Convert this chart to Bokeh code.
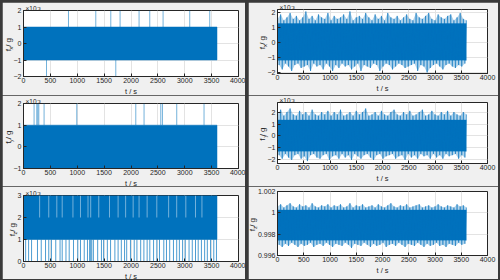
import numpy as np
from bokeh.plotting import figure
from bokeh.layouts import row, column
from bokeh.models import Range1d, FixedTicker, Title
from bokeh.embed import file_html
from bokeh.resources import INLINE

BLUE = "#0072BD"
AX = "#262626"
FONT = "Liberation Sans"

# ---------------- data (values in axis units; fx, fy in 1e-3 g) ----------------
x_ticks = [0, 500, 1000, 1500, 2000, 2500, 3000, 3500, 4000]
t_end = 3600

# left column: quantised signals
lx_body = [-1, 1]
lx_up_t = [837, 1345, 1624, 1797, 2150, 2349, 2597, 3093, 3465]
lx_up_v = [2, 2, 2, 2, 2, 2, 2, 2, 2]
lx_dn_t = [428, 1717]
lx_dn_v = [-2, -2]

ly_body = [-1, 1]
ly_up_t = [197, 247, 266, 285, 383, 991, 2089, 2243, 2554, 2585, 2851, 3359]
ly_up_v = [2, 2, 2, 2, 2, 2, 2, 2, 2, 2, 2, 2]

lz_body = [1, 3]
lz_dn_t = [40, 95, 150, 260, 330, 410, 470, 520, 600, 680, 720, 790, 850, 930,
           1010, 1060, 1130, 1190, 1230, 1250, 1270, 1300, 1380, 1450, 1490, 1560,
           1620, 1700, 1760, 1820, 1880, 1920, 1990, 2060, 2110, 2180, 2240, 2300,
           2350, 2420, 2480, 2530, 2610, 2660, 2720, 2790, 2850, 2900, 2960, 3010,
           3080, 3140, 3200, 3250, 3310, 3370, 3420, 3480, 3540, 3590]
lz_dn_v = [0] * len(lz_dn_t)
lz_gap_t = [300, 470, 620, 720, 920, 1060, 1200, 1250, 1400, 1600, 1760, 1900,
            2040, 2150, 2300, 2480, 2700, 2850, 3020, 3200, 3320]
lz_gap_v = [2, 3]

# right column: noisy signals (core band + upper / lower peak values every 60 s)
rx_core = [-1.2, 1.3]
rx_hi = [1.6, 1.9, 1.5, 1.7, 2.0, 1.6, 1.8, 1.5, 1.7, 2.1, 1.6, 1.8, 1.5, 1.9, 1.7,
         1.6, 2.0, 1.5, 1.8, 1.6, 1.7, 1.9, 1.6, 2.1, 1.5, 1.7, 1.8, 1.6, 2.0, 1.7,
         1.5, 1.9, 1.6, 1.8, 1.5, 2.0, 1.7, 1.6, 1.8, 1.5, 1.7, 1.9, 1.6, 1.5, 2.0,
         1.7, 1.6, 1.8, 2.0, 1.6, 1.5, 1.9, 1.7, 1.6, 1.8, 1.9, 1.5, 1.7, 2.0, 1.6, 1.5]
rx_lo = [-1.5, -1.8, -1.4, -1.6, -1.9, -1.5, -1.4, -1.7, -1.6, -1.5, -1.9, -1.4,
         -1.6, -1.5, -1.8, -1.4, -1.6, -1.9, -1.5, -1.7, -1.4, -1.6, -1.5, -1.8,
         -1.6, -1.4, -1.9, -1.5, -1.6, -1.7, -1.4, -1.5, -1.9, -1.6, -1.4, -1.5,
         -1.8, -1.6, -1.4, -1.5, -1.7, -1.6, -1.5, -1.4, -1.9, -1.5, -1.6, -2.0,
         -1.7, -1.5, -1.4, -1.6, -1.8, -1.5, -1.4, -1.6, -1.7, -1.5, -1.6, -1.4]

ry_core = [-1.3, 1.35]
ry_hi = [1.8, 2.2, 1.7, 2.0, 2.3, 1.8, 1.7, 2.1, 1.8, 2.0, 1.7, 2.2, 1.8, 1.7, 2.0,
         1.8, 2.1, 1.7, 2.0, 1.8, 2.2, 1.7, 1.8, 2.0, 1.7, 2.1, 1.8, 2.0, 2.3, 1.7,
         1.8, 2.0, 1.7, 2.1, 1.8, 1.7, 2.0, 2.2, 1.8, 1.7, 2.0, 1.8, 2.1, 1.7, 1.8,
         2.0, 2.2, 1.7, 1.8, 2.1, 1.8, 1.7, 2.0, 1.8, 2.1, 1.7, 2.0, 1.8, 1.7, 2.0, 1.8]
ry_lo = [-1.6, -1.9, -1.5, -1.8, -2.0, -1.6, -1.5, -1.9, -1.7, -2.1, -1.6, -1.5,
         -1.8, -1.9, -1.6, -1.5, -2.0, -1.7, -1.6, -1.9, -1.5, -1.8, -1.6, -2.0,
         -1.5, -1.7, -1.9, -1.6, -1.5, -1.8, -2.0, -1.6, -1.5, -1.9, -1.7, -1.6,
         -1.5, -1.9, -1.7, -1.6, -2.0, -1.5, -1.8, -1.6, -1.9, -1.5, -1.7, -1.6,
         -1.9, -1.5, -1.8, -1.6, -1.9, -1.5, -1.7, -1.6, -1.5, -1.9, -1.6, -1.8]

rz_core = [0.9974, 1.0003]
rz_hi = [1.0006, 1.0008, 1.0005, 1.0007, 1.0009, 1.0006, 1.0005, 1.0008, 1.0006,
         1.0007, 1.0005, 1.0009, 1.0006, 1.0005, 1.0007, 1.0006, 1.0008, 1.0005,
         1.0007, 1.0006, 1.0008, 1.0005, 1.0006, 1.0009, 1.0005, 1.0007, 1.0006,
         1.0008, 1.0005, 1.0006, 1.0007, 1.0005, 1.0008, 1.0006, 1.0005, 1.0007,
         1.0009, 1.0006, 1.0005, 1.0007, 1.0006, 1.0008, 1.0005, 1.0006, 1.0007,
         1.0008, 1.0005, 1.0006, 1.0007, 1.0005, 1.0006, 1.0008, 1.0006, 1.0005,
         1.0007, 1.0006, 1.0005, 1.0008, 1.0006, 1.0007, 1.0005]
rz_lo = [0.9970, 0.9968, 0.9971, 0.9969, 0.9972, 0.9970, 0.9968, 0.9971, 0.9969,
         0.9970, 0.9972, 0.9968, 0.9970, 0.9971, 0.9969, 0.9972, 0.9970, 0.9968,
         0.9971, 0.9970, 0.9969, 0.9972, 0.9970, 0.9967, 0.9971, 0.9970, 0.9969,
         0.9972, 0.9970, 0.9968, 0.9971, 0.9969, 0.9970, 0.9972, 0.9968, 0.9970,
         0.9971, 0.9969, 0.9972, 0.9970, 0.9968, 0.9971, 0.9970, 0.9969, 0.9972,
         0.9970, 0.9968, 0.9971, 0.9969, 0.9970, 0.9972, 0.9969, 0.9970, 0.9968,
         0.9971, 0.9970, 0.9969, 0.9972, 0.9970, 0.9971]


def make_fig(w, h, bl, br, bt, bb, y0, y1, yticks, overrides=None):
    p = figure(width=w, height=h, x_range=Range1d(0, 4000), y_range=Range1d(y0, y1),
               min_border_left=bl, min_border_right=br, min_border_top=bt,
               min_border_bottom=bb, output_backend="svg", toolbar_location=None,
               background_fill_color="white", border_fill_color="#f0f0f0")
    p.xaxis.ticker = FixedTicker(ticks=x_ticks)
    p.yaxis.ticker = FixedTicker(ticks=yticks)
    p.xgrid.ticker = FixedTicker(ticks=x_ticks)
    p.ygrid.ticker = FixedTicker(ticks=yticks)
    p.grid.grid_line_color = "#e3e3e3"
    if overrides:
        p.yaxis.major_label_overrides = overrides
    for ax in p.axis:
        ax.axis_line_color = AX
        ax.major_tick_line_color = AX
        ax.major_tick_in = 3
        ax.major_tick_out = 0
        ax.minor_tick_line_color = None
        ax.major_label_text_font = FONT
        ax.major_label_text_font_size = "7px"
        ax.major_label_text_color = AX
    p.xaxis.major_label_standoff = 1
    p.yaxis.major_label_standoff = 2
    p.outline_line_color = AX
    p.outline_line_alpha = 1
    return p


def title(text, size, align="center", offset=0, standoff=0):
    return Title(text=text, align=align, offset=offset, standoff=standoff,
                 text_font=FONT, text_font_size=size, text_font_style="normal",
                 text_color=AX)


def labels(p, sub, frame_h, exp=True):
    # y label "f_sub / g": subscript (inner, placed after the "f") + main text (outer)
    p.add_layout(title(sub, "5.5px", align="left", offset=frame_h / 2 - 5,
                       standoff=-7), "left")
    p.add_layout(title("f  / g", "8px", standoff=-6), "left")
    p.add_layout(title("t / s", "7.5px", standoff=-2), "below")
    if exp:
        p.add_layout(title("×10⁻³", "6.5px", align="left", offset=2, standoff=-2), "above")


def quantised(p, body, up_t=None, up_v=None, dn_t=None, dn_v=None, alpha=0.75):
    p.quad(left=[0], right=[t_end], bottom=[body[0]], top=[body[1]],
           fill_color=BLUE, line_color=BLUE, line_width=0.5)
    if up_t:
        p.segment(x0=up_t, y0=[body[1]] * len(up_t), x1=up_t, y1=up_v,
                  line_color=BLUE, line_width=1, line_alpha=alpha)
    if dn_t:
        p.segment(x0=dn_t, y0=[body[0]] * len(dn_t), x1=dn_t, y1=dn_v,
                  line_color=BLUE, line_width=1, line_alpha=alpha)


def noisy(p, core, hi, lo):
    t_hi = np.arange(len(hi)) * 60.0
    t_lo = np.arange(len(lo)) * 60.0 + 30.0
    p.varea(x=t_hi, y1=[core[1]] * len(hi), y2=hi, fill_color=BLUE, fill_alpha=0.3)
    p.varea(x=t_lo, y1=lo, y2=[core[0]] * len(lo), fill_color=BLUE, fill_alpha=0.3)
    p.quad(left=[0], right=[t_end], bottom=[core[0]], top=[core[1]],
           fill_color=BLUE, line_color=None)
    ts = np.concatenate([t_hi, t_lo])
    vs = np.concatenate([hi, lo])
    order = np.argsort(ts)
    p.line(ts[order], vs[order], line_color=BLUE, line_width=0.7, line_alpha=0.75)


# ---------------- left column ----------------
L1 = make_fig(243, 93, 21, 7, 8, 19, -2, 2, [-2, -1, 0, 1, 2])
quantised(L1, lx_body, lx_up_t, lx_up_v, lx_dn_t, lx_dn_v, alpha=0.55)
labels(L1, "x", 64)

L2 = make_fig(243, 91, 21, 7, 8, 18, -1, 2, [-1, 0, 1, 2])
quantised(L2, ly_body, ly_up_t, ly_up_v, alpha=0.55)
labels(L2, "y", 63)

L3 = make_fig(243, 93, 21, 7, 9, 18, 0, 3, [0, 1, 2, 3])
quantised(L3, lz_body, None, None, lz_dn_t, lz_dn_v, alpha=0.7)
L3.segment(x0=lz_gap_t, y0=[lz_gap_v[0]] * len(lz_gap_t), x1=lz_gap_t,
           y1=[lz_gap_v[1]] * len(lz_gap_t), line_color="white", line_width=1,
           line_alpha=0.45)
labels(L3, "z", 64)

# ---------------- right column ----------------
R1 = make_fig(250, 93, 28, 11, 7, 22, -2.07, 2.23, [-2, -1, 0, 1, 2])
noisy(R1, rx_core, rx_hi, rx_lo)
labels(R1, "x", 63)

R2 = make_fig(250, 91, 28, 11, 4, 23, -2.3, 2.8, [-2, -1, 0, 1, 2])
noisy(R2, ry_core, ry_hi, ry_lo)
labels(R2, "y", 62)

R3 = make_fig(250, 93, 28, 11, 5, 24, 0.996, 1.002, [0.996, 0.998, 1.0, 1.002],
              overrides={0.996: "0.996", 0.998: "0.998", 1.0: "1", 1.002: "1.002"})
noisy(R3, rz_core, rz_hi, rz_lo)
labels(R3, "z", 63, exp=False)

left = column(L1, L2, L3, spacing=0)
right = column(R1, R2, R3, spacing=0)
layout = row(left, right, spacing=3,
             styles={"background-color": "#3a3a3a", "padding": "2px 2px 1px 2px"})

open("out.html", "w").write(file_html(layout, INLINE))
